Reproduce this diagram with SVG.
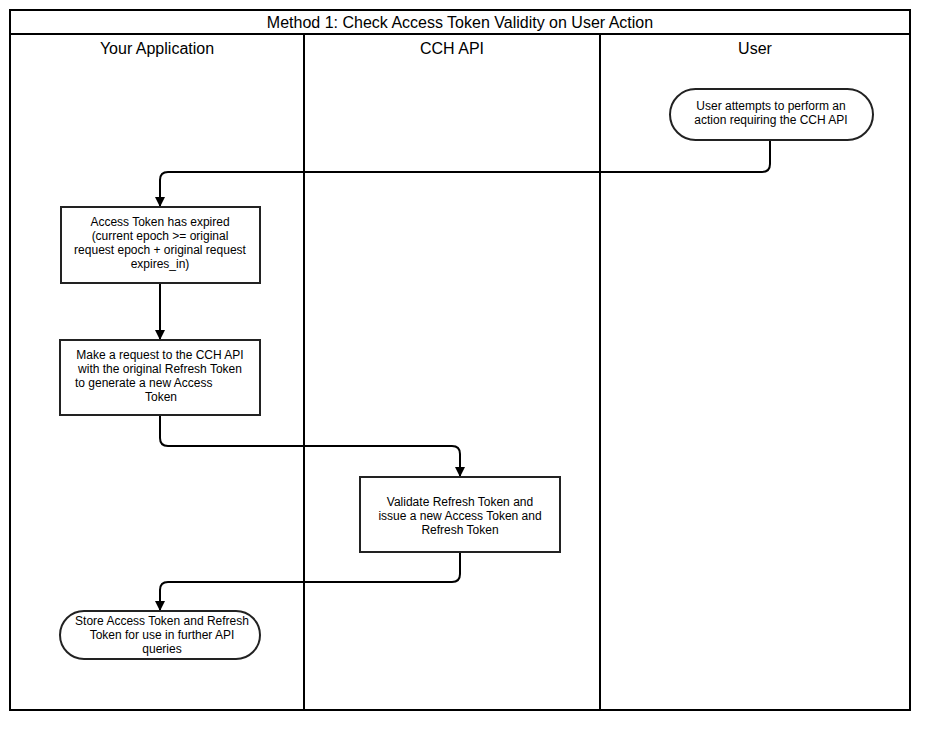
<svg xmlns="http://www.w3.org/2000/svg" width="932" height="730" viewBox="0 0 932 730">
<defs>
<style>
.frame{fill:none;stroke:#000;stroke-width:2}
.box{fill:#fff;stroke:#222;stroke-width:2}
.conn{fill:none;stroke:#000;stroke-width:2}
.t{font-family:"Liberation Sans",Arial,sans-serif;font-size:12px;fill:#000;text-anchor:middle}
.h{font-family:"Liberation Sans",Arial,sans-serif;font-size:16px;fill:#000;text-anchor:middle}
</style>
<marker id="arr" viewBox="0 0 10 10" refX="10" refY="5" markerWidth="10" markerHeight="10" markerUnits="userSpaceOnUse" orient="auto">
<path d="M0,0 L10,5 L0,10 Z" fill="#000"/>
</marker>
</defs>
<rect width="932" height="730" fill="#fff"/>
<g id="pool">
<rect class="frame" x="10" y="10" width="900" height="700"/>
<line class="frame" x1="10" y1="34" x2="910" y2="34"/>
<line class="frame" x1="304" y1="34" x2="304" y2="710"/>
<line class="frame" x1="600" y1="34" x2="600" y2="710"/>
<text class="h" x="460" y="28">Method 1: Check Access Token Validity on User Action</text>
<text class="h" x="157" y="54">Your Application</text>
<text class="h" x="452" y="54">CCH API</text>
<text class="h" x="755" y="54">User</text>
</g>
<g id="connectors">
<path class="conn" d="M770,140 V164 Q770,172 762,172 H168 Q160,172 160,180 V207" marker-end="url(#arr)"/>
<path class="conn" d="M160,283 V340" marker-end="url(#arr)"/>
<path class="conn" d="M160,415 V438 Q160,446 168,446 H452 Q460,446 460,454 V477" marker-end="url(#arr)"/>
<path class="conn" d="M460,552 V574 Q460,582 452,582 H168 Q160,582 160,590 V611" marker-end="url(#arr)"/>
</g>
<g id="user-action">
<rect class="box" x="670" y="89" width="203" height="51" rx="25.5"/>
<text class="t" x="771" y="110">User attempts to perform an</text>
<text class="t" x="771" y="124">action requiring the CCH API</text>
</g>
<g id="token-expired">
<rect class="box" x="61" y="207" width="199" height="76"/>
<text class="t" x="160" y="226">Access Token has expired</text>
<text class="t" x="160" y="240">(current epoch &gt;= original</text>
<text class="t" x="160" y="254">request epoch + original request</text>
<text class="t" x="160" y="268">expires_in)</text>
</g>
<g id="make-request">
<rect class="box" x="60" y="340" width="200" height="75"/>
<text class="t" x="160" y="359">Make a request to the CCH API</text>
<text class="t" x="160" y="373">with the original Refresh Token</text>
<text class="t" x="75" y="387" style="text-anchor:start">to generate a new Access</text>
<text class="t" x="161" y="401">Token</text>
</g>
<g id="validate">
<rect class="box" x="360" y="477" width="200" height="75"/>
<text class="t" x="460" y="506">Validate Refresh Token and</text>
<text class="t" x="460" y="520">issue a new Access Token and</text>
<text class="t" x="460" y="534">Refresh Token</text>
</g>
<g id="store">
<rect class="box" x="60" y="611" width="200" height="48" rx="24"/>
<text class="t" x="162" y="625">Store Access Token and Refresh</text>
<text class="t" x="162" y="639">Token for use in further API</text>
<text class="t" x="162" y="653">queries</text>
</g>
</svg>
